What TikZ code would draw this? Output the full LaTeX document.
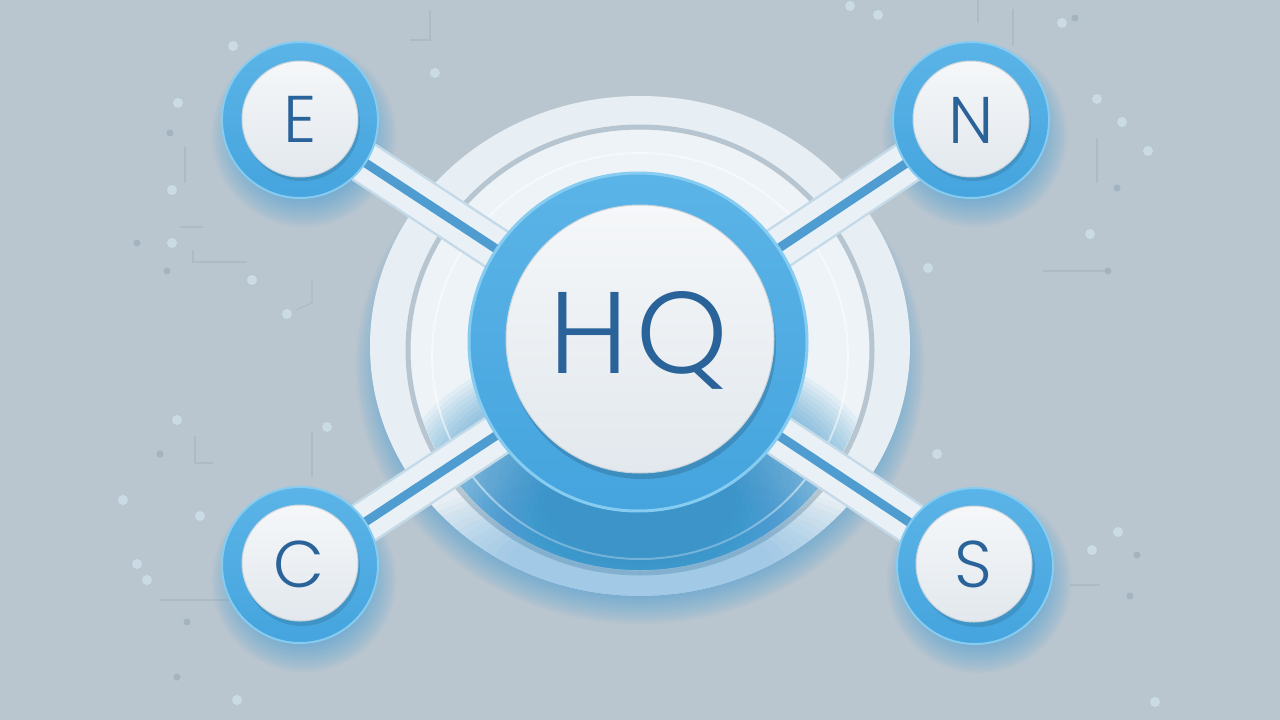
\documentclass[tikz,border=0pt]{standalone}
\usepackage{fontspec}
\IfFontExistsTF{Poppins Light}{\newfontfamily\popfont{Poppins Light}}{\newfontfamily\popfont{Poppins}}
\usetikzlibrary{calc}
\pgfdeclarelayer{back}
\pgfdeclarelayer{mid}
\pgfsetlayers{back,mid,main}
\definecolor{bgc}{HTML}{B9C6CF}
\definecolor{ringblue}{HTML}{5BB4E7}
\definecolor{ringblueD}{HTML}{45A4DE}
\definecolor{rimblue}{HTML}{86CBF0}
\definecolor{diskT}{HTML}{F5F7F9}
\definecolor{diskB}{HTML}{E2E8ED}
\definecolor{diskline}{HTML}{C9D3DB}
\definecolor{txtblue}{HTML}{2A6399}
\definecolor{barwhite}{HTML}{E9F1F6}
\definecolor{baredge}{HTML}{C4DAE8}
\definecolor{groove}{HTML}{4F9DD0}
\definecolor{discwhite}{HTML}{E8EFF4}
\definecolor{discline}{HTML}{B6C5CF}
\definecolor{innerwhite}{HTML}{EDF3F7}
\definecolor{deepblue}{HTML}{1E86C8}
\definecolor{glowblue}{HTML}{3C9AD6}
\definecolor{dotlight}{HTML}{D0E1EB}
\definecolor{dotgray}{HTML}{9EAFBB}
\definecolor{circuit}{HTML}{AAB9C3}
\begin{document}
\begin{tikzpicture}[x=1pt,y=-1pt,
  satring/.style={circle,minimum size=156pt,inner sep=0pt,outer sep=0pt,
    top color=ringblue,bottom color=ringblueD,draw=rimblue,line width=2pt},
  satdisk/.style={circle,minimum size=116pt,inner sep=0pt,outer sep=0pt,
    top color=diskT,bottom color=diskB,draw=diskline,line width=1pt},
  satshadow/.style={circle,minimum size=116pt,inner sep=0pt,outer sep=0pt,
    fill=ringblueD!70!black,opacity=0.35},
  hqring/.style={circle,minimum size=338pt,inner sep=0pt,outer sep=0pt,
    top color=ringblue,bottom color=ringblueD,draw=rimblue,line width=3pt},
  hqdisk/.style={circle,minimum size=268pt,inner sep=0pt,outer sep=0pt,
    top color=diskT,bottom color=diskB,draw=diskline,line width=1pt},
  hqshadow/.style={circle,minimum size=268pt,inner sep=0pt,outer sep=0pt,
    fill=ringblueD!60!black,opacity=0.35},
  sattext/.style={text=txtblue,font=\popfont\fontsize{66pt}{70pt}\selectfont,inner sep=0pt},
  hqtext/.style={text=txtblue,font=\popfont\fontsize{116pt}{120pt}\selectfont,inner sep=0pt},
  connedge/.style={line width=44pt,draw=baredge},
  connbar/.style={line width=39pt,draw=barwhite},
  conngroove/.style={line width=9pt,draw=groove},
  dotL/.style={fill=dotlight,opacity=0.8},
  dotG/.style={fill=dotgray,opacity=0.8},
  circ/.style={draw=circuit,line width=1.2pt,opacity=0.8}
]
\useasboundingbox (0,0) rectangle (1280,720);

% ---- satellites and hub ----
\node[satring] (E) at (300,120) {};
\node[satshadow] (Es) at (302,123) {};
\node[satdisk] (Ed) at (300,119) {};
\node[sattext,anchor=base] (Et) at (300,142) {E};

\node[satring] (N) at (971,120) {};
\node[satshadow] (Ns) at (973,123) {};
\node[satdisk] (Nd) at (971,119) {};
\node[sattext,anchor=base] (Nt) at (971,143) {N};

\node[satring] (C) at (300,565) {};
\node[satshadow] (Cs) at (302,568) {};
\node[satdisk] (Cd) at (300,563) {};
\node[sattext,anchor=base] (Ct) at (299,587) {C};

\node[satring] (S) at (975,566) {};
\node[satshadow] (Ss) at (977,569) {};
\node[satdisk] (Sd) at (974,564) {};
\node[sattext,anchor=base] (St) at (973,587) {S};

\node[hqring] (HQ) at (638,342) {};
\node[hqshadow] (HQs) at (642,345) {};
\node[hqdisk] (HQd) at (640,339) {};
\node[hqtext,anchor=base] (HQt) at (639,373) {H\kern8pt Q};

% ---- connectors ----
\begin{pgfonlayer}{mid}
\foreach \s in {E,N,C,S} {
  \draw[connedge] (\s.center) -- (HQ.center);
  \draw[connbar] (\s.center) -- (HQ.center);
  \draw[conngroove] (\s.center) -- (HQ.center);
}
\end{pgfonlayer}

% ---- background, decorations, big disc ----
\begin{pgfonlayer}{back}
\fill[bgc] (0,0) rectangle (1280,720);
% circuit traces
\draw[circ] (185,147) -- (185,183);
\draw[circ] (180,227) -- (203,227);
\draw[circ] (193,250) -- (193,262) -- (247,262);
\draw[circ] (312,280) -- (312,303) -- (296,310);
\draw[circ] (312,431) -- (312,477);
\draw[circ] (195,436) -- (195,463) -- (213,463);
\draw[circ] (160,600) -- (230,600);
\draw[circ] (978,0) -- (978,23);
\draw[circ] (1013,9) -- (1013,46);
\draw[circ] (1097,138) -- (1097,183);
\draw[circ] (1043,271) -- (1110,271);
\draw[circ] (1070,585) -- (1100,585);
\draw[circ] (430,10) -- (430,40) -- (410,40);
% light dots
\foreach \p in {(233,46),(178,103),(172,190),(172,243),(252,280),(287,314),(177,420),(327,427),(123,500),(200,516),(137,564),(147,580),(237,700),(1062,23),(1097,99),(1122,122),(1148,151),(1090,234),(928,268),(1092,550),(1118,532),(937,454),(1155,702),(435,73),(878,15),(850,6)}
  \fill[dotL] \p circle (5);
% gray dots
\foreach \p in {(170,133),(137,243),(167,271),(160,454),(187,622),(177,677),(1117,188),(1108,271),(1137,555),(1130,596),(1075,18)}
  \fill[dotG] \p circle (3.5);
% soft glows under satellites
\foreach \s in {E,N,C,S} {
  \foreach \i in {0,...,11}
    \fill[glowblue,opacity=0.05] ($(\s.center)+(4,15)$) circle ({92-\i*2.5});
}
% glow under the big disc
\foreach \i in {0,...,11}
  \fill[glowblue,opacity=0.05] (640,366) ellipse ({284-\i*2.5} and {258-\i*2.5});
% outer disc
\fill[discwhite] (640,346) ellipse (270 and 250);
\draw[discline,line width=5pt] (640,350) ellipse (232 and 223);
% inner area with blue shadow at the bottom
\begin{scope}
  \clip (640,350) ellipse (229 and 220);
  \fill[innerwhite] (640,350) ellipse (229 and 220);
  \foreach \i in {0,...,29}
    \fill[deepblue,opacity=0.055] (640,500) ellipse ({250-\i*5.5} and {165-\i*3.6});
\end{scope}
\draw[white,line width=2pt,opacity=0.5] (640,356) ellipse (208 and 203);
% light blue tint on the lower part of the outer band
\begin{scope}
  \clip (640,346) ellipse (270 and 250);
  \foreach \i in {0,...,11}
    \fill[glowblue,opacity=0.04] (640,560) ellipse ({265-\i*12} and {85-\i*4});
\end{scope}
\end{pgfonlayer}
\end{tikzpicture}
\end{document}
